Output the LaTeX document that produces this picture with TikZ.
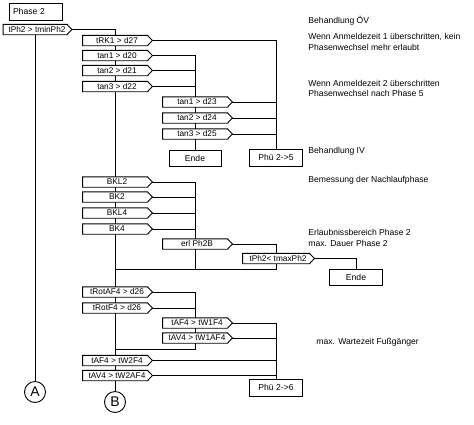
\documentclass[tikz,border=0pt]{standalone}
\usepackage{fontspec}
\setmainfont{Liberation Sans}
\begin{document}
\begin{tikzpicture}[x=1pt,y=-1pt, line width=0.9pt,
  every node/.style={font=\fontsize{8.6}{10.5}\selectfont},
  cond/.style={rectangle, inner sep=0pt, minimum width=64pt, minimum height=9.5pt, fill=white,
    font=\fontsize{8.3}{9}\selectfont, execute at begin node=\hspace*{4pt}},
  endbox/.style={draw, rectangle, fill=white, inner sep=0pt, minimum width=52pt, minimum height=16pt},
  conn/.style={circle, draw, inner sep=0pt, minimum size=21pt, font=\fontsize{14}{14}\selectfont},
  note/.style={anchor=west, align=left, inner sep=0pt}]
\useasboundingbox (0,0) rectangle (474,424);

% start
\node[draw, rectangle, text width=45pt, inner xsep=4pt, inner ysep=0pt, minimum height=17pt, align=left] (ph2) at (35.5,11.5) {Phase 2};
\node[cond, minimum width=63pt] (tph) at (35,29.5) {tPh2 > tminPh2};

% column 1 top
\node[cond] (trk1) at (115,40.5) {tRK1 > d27};
\node[cond] (tan1) at (115,55.5) {tan1 > d20};
\node[cond] (tan2) at (115,70.5) {tan2 > d21};
\node[cond] (tan3) at (115,86.5) {tan3 > d22};
% column 2 top
\node[cond] (tan1b) at (195,102) {tan1 > d23};
\node[cond] (tan2b) at (195,118) {tan2 > d24};
\node[cond] (tan3b) at (195,134) {tan3 > d25};
\node[endbox] (ende1) at (195,158) {Ende};
\node[endbox, minimum width=53pt, minimum height=17pt] (phu25) at (276,157.5) {Phü 2->5};

% middle
\node[cond] (bkl2) at (115,182) {BKL2};
\node[cond] (bk2) at (115,197) {BK2};
\node[cond] (bkl4) at (115,213) {BKL4};
\node[cond] (bk4) at (115,229) {BK4};
\node[cond] (erl) at (195,244) {erl Ph2B};
\node[cond, minimum width=66pt] (tmax) at (276,258.5) {tPh2< tmaxPh2};
\node[endbox, minimum width=53pt] (ende2) at (356,277) {Ende};

% bottom
\node[cond] (trotaf4) at (115,292) {tRotAF4 > d26};
\node[cond] (trotf4) at (115,308) {tRotF4 > d26};
\node[cond] (taf4a) at (195,323) {tAF4 > tW1F4};
\node[cond] (tav4a) at (195,338) {tAV4 > tW1AF4};
\node[cond] (taf4b) at (115,360.5) {tAF4 > tW2F4};
\node[cond] (tav4b) at (115,375.5) {tAV4 > tW2AF4};
\node[endbox, minimum width=53pt, minimum height=17pt] (phu26) at (276,387.5) {Phü 2->6};

\node[conn] (A) at (35,392) {A};
\node[conn] (B) at (115,402) {B};

% outlines of condition boxes
\foreach \n in {tph,trk1,tan1,tan2,tan3,tan1b,tan2b,tan3b,bkl2,bk2,bkl4,bk4,erl,tmax,trotaf4,trotf4,taf4a,tav4a,taf4b,tav4b}
  \draw (\n.north east) -- (\n.north west) -- (\n.south west) -- (\n.south east) -- ([xshift=5pt]\n.east) -- cycle;

% notes
\node[note] (n1) at (308,21) {Behandlung ÖV};
\node[note] (n2) at (308,42) {Wenn Anmeldezeit 1 überschritten, kein\\Phasenwechsel mehr erlaubt};
\node[note] (n3) at (308,88.5) {Wenn Anmeldezeit 2 überschritten\\Phasenwechsel nach Phase 5};
\node[note] (n4) at (308,151) {Behandlung IV};
\node[note] (n5) at (308,180) {Bemessung der Nachlaufphase};
\node[note] (n6) at (308,238) {Erlaubnissbereich Phase 2\\max. Dauer Phase 2};
\node[note] (n7) at (316,342) {max. Wartezeit Fußgänger};

% connectors: main columns
\draw (tph.south) -- (A.north);
\draw ([xshift=5pt]tph.east) -| (trk1.north);
\draw (trk1.south) -- (tan1.north);
\draw (tan1.south) -- (tan2.north);
\draw (tan2.south) -- (tan3.north);
\draw (tan3.south) -- (bkl2.north);
\draw (bkl2.south) -- (bk2.north);
\draw (bk2.south) -- (bkl4.north);
\draw (bkl4.south) -- (bk4.north);
\draw (bk4.south) -- (trotaf4.north);
\draw (trotaf4.south) -- (trotf4.north);
\draw (trotf4.south) -- (taf4b.north);
\draw (taf4b.south) -- (tav4b.north);
\draw (tav4b.south) -- (B.north);

% section 1
\draw ([xshift=5pt]trk1.east) -| (phu25.north);
\draw ([xshift=5pt]tan1.east) -| (tan1b.north);
\draw ([xshift=5pt]tan2.east) -- (tan2.east -| tan1b.north);
\draw ([xshift=5pt]tan3.east) -- (tan3.east -| tan1b.north);
\draw (tan1b.south) -- (tan2b.north);
\draw (tan2b.south) -- (tan3b.north);
\draw (tan3b.south) -- (ende1.north);
\draw ([xshift=5pt]tan1b.east) -- (tan1b.east -| phu25.north);
\draw ([xshift=5pt]tan2b.east) -- (tan2b.east -| phu25.north);
\draw ([xshift=5pt]tan3b.east) -- (tan3b.east -| phu25.north);

% section 2
\coordinate (m1) at (115,269);
\draw ([xshift=5pt]bkl2.east) -| (erl.north);
\draw ([xshift=5pt]bk2.east) -- (bk2.east -| erl.north);
\draw ([xshift=5pt]bkl4.east) -- (bkl4.east -| erl.north);
\draw ([xshift=5pt]bk4.east) -- (bk4.east -| erl.north);
\draw (erl.south) -- (erl.south |- m1);
\draw ([xshift=5pt]erl.east) -| (tmax.north);
\draw ([xshift=5pt]tmax.east) -| (ende2.north);
\draw (tmax.south) |- (m1);

% section 3
\coordinate (m2) at (115,349);
\draw ([xshift=5pt]trotaf4.east) -| (taf4a.north);
\draw ([xshift=5pt]trotf4.east) -- (trotf4.east -| taf4a.north);
\draw (taf4a.south) -- (tav4a.north);
\draw (tav4a.south) |- (m2);
\draw ([xshift=5pt]taf4a.east) -| (phu26.north);
\draw ([xshift=5pt]tav4a.east) -- (tav4a.east -| phu26.north);
\draw ([xshift=5pt]taf4b.east) -- (taf4b.east -| phu26.north);
\draw ([xshift=5pt]tav4b.east) -- (tav4b.east -| phu26.north);
\end{tikzpicture}
\end{document}
